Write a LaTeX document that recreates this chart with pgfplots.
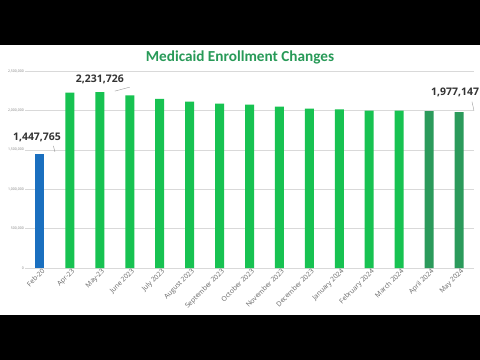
\documentclass[border=0pt]{standalone}
\usepackage{fontspec}
\setmainfont{Carlito}
\newfontfamily\osans{Open Sans}
\usepackage{pgfplots}
\pgfplotsset{compat=1.18}
\definecolor{bblue}{HTML}{1A6FBF}
\definecolor{bgreen}{HTML}{17C251}
\definecolor{dgreen}{HTML}{2B9A5B}
\definecolor{tgreen}{HTML}{289A58}
\begin{document}
\begin{tikzpicture}
\useasboundingbox (0,0) rectangle (480bp,360bp);
\fill[black] (0,0) rectangle (480bp,360bp);
\fill[white] (0,45bp) rectangle (480bp,315bp);
\node[font=\fontsize{15.3}{17}\selectfont\bfseries, text=tgreen] at (240bp,303bp) {Medicaid Enrollment Changes};
\begin{axis}[
  at={(25bp,92bp)}, anchor=south west, scale only axis,
  width=449bp, height=197bp,
  xmin=-0.5, xmax=14.5, ymin=0, ymax=2500000,
  ybar, bar width=9bp, bar shift=0pt,
  xtick={0,...,14},
  xticklabels={Feb-20,Apr-23,May-23,June 2023,July 2023,August 2023,September 2023,October 2023,November 2023,December 2023,January 2024,February 2024,March 2024,April 2024,May 2024},
  x tick label style={rotate=45, anchor=north east, font=\osans\fontsize{6.8}{8}\selectfont, text=black!60, inner sep=1pt, xshift=2bp},
  ytick={0,500000,1000000,1500000,2000000,2500000},
  scaled y ticks=false,
  yticklabel style={font=\osans\fontsize{3.5}{4}\selectfont, text=black!50, inner sep=1pt},
  /pgf/number format/.cd, fixed, 1000 sep={,}, assume math mode=true,
  /pgfplots/.cd,
  ymajorgrids, grid style={black!15, line width=0.4pt},
  axis line style={draw=none}, major tick length=0pt,
  clip=false,
]
\addplot[fill=bblue, draw=none] coordinates {(0,1447765)};
\addplot[fill=bgreen, draw=none] coordinates {
 (1,2226000) (2,2231726) (3,2192000) (4,2146000) (5,2112000) (6,2087000)
 (7,2074000) (8,2048000) (9,2023000) (10,2012000) (11,1998000) (12,1996000)};
\addplot[fill=dgreen, draw=none] coordinates {(13,1992000) (14,1977147)};
\node[font=\osans\bfseries\fontsize{10.5}{12}\selectfont, text=black!80] at (axis cs:0,1447765) [xshift=-3bp, yshift=17bp] {1,447,765};
\draw[black!40, line width=0.4pt] (axis cs:0,1447765) ++(0,2bp) -- ++(-1.5bp,6bp);
\node[font=\osans\bfseries\fontsize{10.5}{12}\selectfont, text=black!80] at (axis cs:2,2231726) [yshift=13bp] {2,231,726};
\draw[black!40, line width=0.4pt] (axis cs:2,2231726) ++(0,1bp) -- ++(0,4bp);
\node[font=\osans\bfseries\fontsize{10.5}{12}\selectfont, text=black!80] at (axis cs:14,1977147) [xshift=-4bp, yshift=19.5bp] {1,977,147};
\draw[black!40, line width=0.4pt] (axis cs:14,1977147) ++(0,1.5bp) -- ++(-2bp,9bp);
\end{axis}
\end{tikzpicture}
\end{document}
